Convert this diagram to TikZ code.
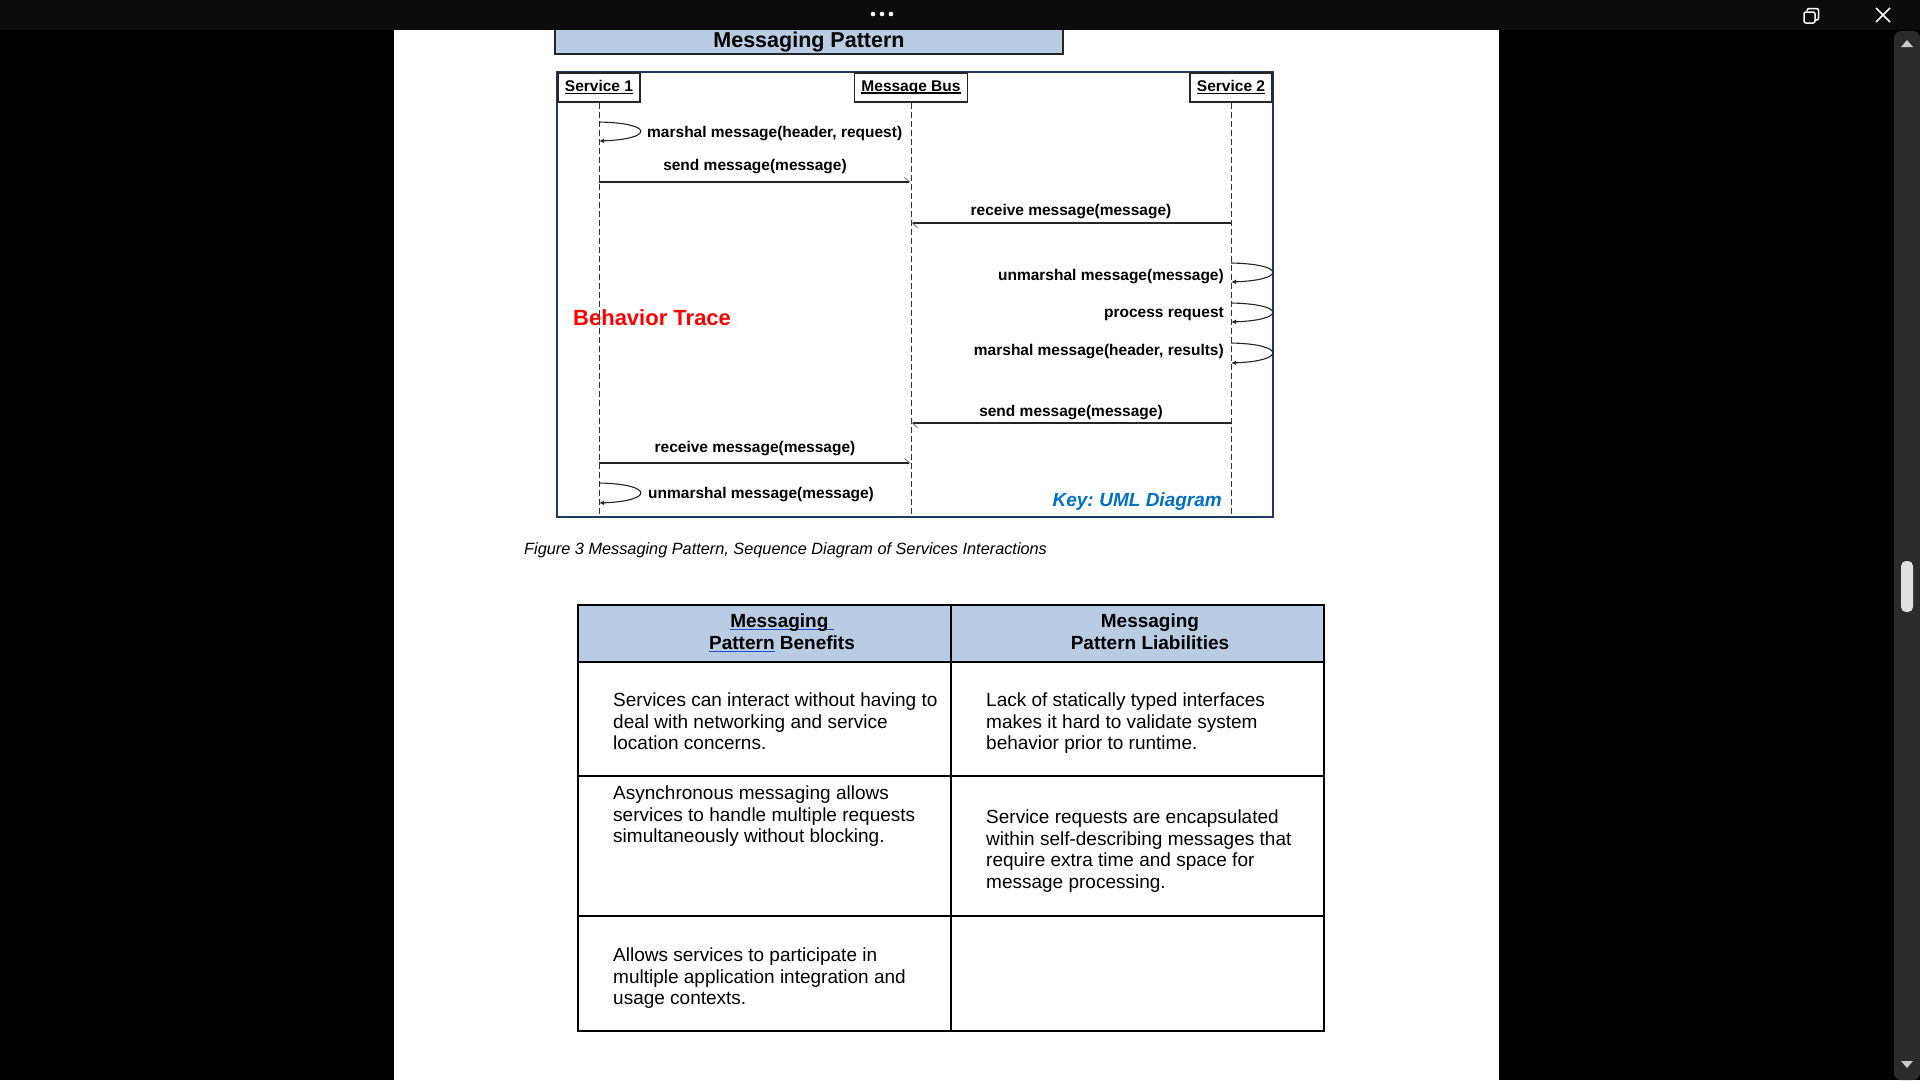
\documentclass[tikz,border=0pt]{standalone}
\usepackage{fontspec}
\setmainfont{Liberation Sans}
\usetikzlibrary{arrows.meta}
\definecolor{hdrblue}{HTML}{B8CCE4}
\definecolor{framenavy}{HTML}{1F3864}
\definecolor{keyblue}{HTML}{0070C0}
\definecolor{ulblue}{HTML}{1F4FD0}
\definecolor{barbg}{HTML}{0C0C0C}
\definecolor{scrollbg}{HTML}{2B2B2B}
\definecolor{thumbgray}{HTML}{E0E0E0}
\definecolor{arrowgray}{HTML}{C8C8C8}
\newcommand\ulcol[2]{\leavevmode\setbox0\hbox{#2}\rlap{\color{#1}\rule[-2.5pt]{\wd0}{1.2pt}}\box0\relax}
\begin{document}
\begin{tikzpicture}[x=1pt,y=-1pt,
  lifebox/.style={draw=black!85, fill=white, line width=1.2pt, minimum height=29pt, inner sep=0pt, font=\fontsize{15.5}{18}\selectfont\bfseries},
  msglabel/.style={inner sep=0pt, font=\fontsize{15.5}{18}\selectfont\bfseries},
  lifeline/.style={draw=black!80, dash pattern=on 6pt off 3pt, line width=0.9pt},
  msg/.style={draw=black!85, line width=1.2pt, -{Straight Barb[harpoon, length=5.5pt, width=9pt, line width=0.8pt, color=black!55]}},
  selfloop/.style={draw=black!85, line width=1.1pt, -{Latex[length=5pt, width=4.5pt]}},
  tbl/.style={draw=black, line width=1.2pt},
  hdrtext/.style={inner sep=0pt, anchor=north, align=center, font=\fontsize{19}{21.5}\selectfont\bfseries},
  bodytext/.style={inner sep=0pt, anchor=north west, align=left, font=\fontsize{19}{21.5}\selectfont}
]
\useasboundingbox (0,0) rectangle (1920,1080);
% screen background and page
\fill[black] (0,0) rectangle (1920,1080);
\fill[white] (394,30) rectangle (1499,1080);

% title box
\draw[draw=black!85, fill=hdrblue, line width=1.2pt] (555,18) rectangle (1063,54);
\node[inner sep=0pt, font=\fontsize{21.5}{24}\selectfont\bfseries] (titletext) at (809,41.5) {Messaging Pattern};

% diagram frame
\draw[draw=framenavy, line width=1.2pt] (557,72) rectangle (1273,517);

% lifeline heads
\node[lifebox, minimum width=82pt] (s1) at (599,87.5) {\ulcol{black}{Service 1}};
\node[lifebox, minimum width=113pt] (bus) at (911,87.5) {\ulcol{black}{Message Bus}};
\node[lifebox, minimum width=82pt] (s2) at (1231,87.5) {\ulcol{black}{Service 2}};

\coordinate (s1end) at (599,517);
\coordinate (busend) at (911,517);
\coordinate (s2end) at (1231,517);
\draw[lifeline] (s1.south) -- (s1end);
\draw[lifeline] (bus.south) -- (busend);
\draw[lifeline] (s2.south) -- (s2end);

% self loops
\coordinate (l1a) at (599,122); \coordinate (l1b) at (599,141);
\coordinate (l2a) at (1231,263); \coordinate (l2b) at (1231,282);
\coordinate (l3a) at (1231,303); \coordinate (l3b) at (1231,322);
\coordinate (l4a) at (1231,343); \coordinate (l4b) at (1231,363);
\coordinate (l5a) at (599,483); \coordinate (l5b) at (599,503);
\foreach \a/\b in {l1a/l1b,l2a/l2b,l3a/l3b,l4a/l4b,l5a/l5b}
  \draw[selfloop] (\a) .. controls +(55,1) and +(55,-2) .. (\b);

% messages
\coordinate (m1a) at (599,182); \coordinate (m1b) at (911,182);
\coordinate (m2a) at (1231,223); \coordinate (m2b) at (911,223);
\coordinate (m3a) at (1231,423); \coordinate (m3b) at (911,423);
\coordinate (m4a) at (599,463); \coordinate (m4b) at (911,463);
\draw[msg] (m1a) -- (m1b);
\draw[msg] (m2a) -- (m2b);
\draw[msg] (m3a) -- (m3b);
\draw[msg] (m4a) -- (m4b);

% labels
\node[msglabel, anchor=west] (t1) at (647,133.5) {marshal message(header, request)};
\node[msglabel] (t2) at (755,167) {send message(message)};
\node[msglabel] (t3) at (1071,212) {receive message(message)};
\node[msglabel, anchor=east] (t4) at (1224,277) {unmarshal message(message)};
\node[msglabel, anchor=east] (t5) at (1224,314) {process request};
\node[msglabel, anchor=east] (t6) at (1224,352) {marshal message(header, results)};
\node[msglabel] (t7) at (1071,413) {send message(message)};
\node[msglabel] (t8) at (755,449) {receive message(message)};
\node[msglabel, anchor=west] (t9) at (648,495) {unmarshal message(message)};
\node[inner sep=0pt, anchor=west, text=red, font=\fontsize{22}{26}\selectfont\bfseries] (trace) at (573,318) {Behavior Trace};
\node[inner sep=0pt, anchor=east, text=keyblue, font=\fontsize{19}{22}\selectfont\bfseries\itshape] (key) at (1222,502) {Key:\hspace{-1.5pt} UML Diagram};

% caption
\node[inner sep=0pt, anchor=west, font=\fontsize{16.3}{19}\selectfont\itshape] (cap) at (524,550) {Figure 3 Messaging Pattern, Sequence Diagram of Services Interactions};

% table
\draw[tbl, fill=hdrblue] (578,605) rectangle (1324,662);
\draw[tbl] (578,662) rectangle (1324,1031);
\draw[tbl] (578,776) -- (1324,776);
\draw[tbl] (578,916) -- (1324,916);
\draw[tbl] (951,605) -- (951,1031);

\node[hdrtext] (h1) at (782,614) {\ulcol{ulblue}{Messaging\ }\\\ulcol{ulblue}{Pattern} Benefits};
\node[hdrtext] (h2) at (1150,614) {Messaging\\Pattern Liabilities};

\node[bodytext] (r1c1) at (613,693) {Services can interact without having to\\deal with networking and service\\location concerns.};
\node[bodytext] (r1c2) at (986,693) {Lack of statically typed interfaces\\makes it hard to validate system\\behavior prior to runtime.};
\node[bodytext] (r2c1) at (613,786) {Asynchronous messaging allows\\services to handle multiple requests\\simultaneously without blocking.};
\node[bodytext] (r2c2) at (986,810) {Service requests are encapsulated\\within self-describing messages that\\require extra time and space for\\message processing.};
\node[bodytext] (r3c1) at (613,948) {Allows services to participate in\\multiple application integration and\\usage contexts.};

% window top bar
\fill[barbg] (0,0) rectangle (1920,30);
\fill[white] (873,14) circle (2.3);
\fill[white] (882,14) circle (2.3);
\fill[white] (891,14) circle (2.3);
\draw[white, line width=1.5pt, rounded corners=2pt] (1804,12) rectangle (1815,23);
\draw[white, line width=1.5pt, rounded corners=2pt] (1807,11) -- (1807,8.5) -- (1818.5,8.5) -- (1818.5,20) -- (1816,20);
\draw[white, line width=1.5pt] (1876,8) -- (1890,22) (1890,8) -- (1876,22);

% scrollbar
\fill[scrollbg, rounded corners=7pt] (1894,31) rectangle (1920,1080);
\fill[arrowgray] (1901,47) -- (1913,47) -- (1907,40) -- cycle;
\fill[arrowgray] (1901,1061) -- (1913,1061) -- (1907,1068) -- cycle;
\fill[thumbgray, rounded corners=5pt] (1901,561) rectangle (1913,612);
\end{tikzpicture}
\end{document}
